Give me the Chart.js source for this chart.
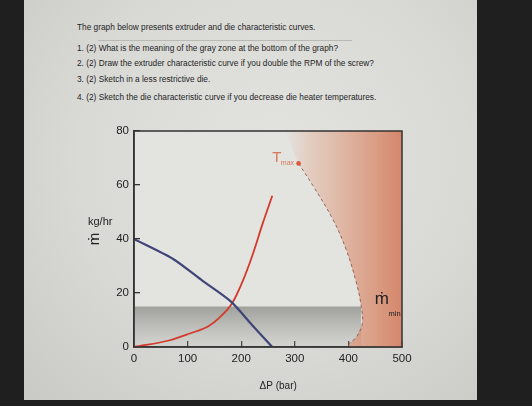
<!DOCTYPE html>
<html>
<head>
<meta charset="utf-8">
<script src="https://cdn.jsdelivr.net/npm/chart.js@4.4.1/dist/chart.umd.min.js"></script>
<style>
  html,body{margin:0;padding:0;width:532px;height:406px;overflow:hidden;background:#1f1f1f;}
  #paper{position:absolute;left:24px;top:0;width:453px;height:400px;
    background:radial-gradient(ellipse at 55% 40%, #e3e3e0 0%, #d9d9d6 55%, #c9c9c5 100%);}
  .q{position:absolute;left:77px;font-family:"Liberation Sans",Arial,sans-serif;font-size:8.3px;color:#1e1e1e;white-space:nowrap;line-height:10px;}
  #rule{position:absolute;left:98px;top:40px;width:254px;height:1px;background:#b9b9b6;}
  #c{position:absolute;left:0;top:0;}
</style>
</head>
<body>
<div id="paper"></div>
<div class="q" style="top:22px">The graph below presents extruder and die characteristic curves.</div>
<div id="rule"></div>
<div class="q" style="top:43px">1. (2) What is the meaning of the gray zone at the bottom of the graph?</div>
<div class="q" style="top:58px">2. (2) Draw the extruder characteristic curve if you double the RPM of the screw?</div>
<div class="q" style="top:74px">3. (2) Sketch in a less restrictive die.</div>
<div class="q" style="top:92px">4. (2) Sketch the die characteristic curve if you decrease die heater temperatures.</div>
<canvas id="c" width="532" height="406"></canvas>
<script>
// courbe extrudeuse (bleu)
const extruderP = [0, 73, 128, 181, 221, 258];
const extruderM = [40, 32.6, 24.5, 16.8, 8, 0];
// courbe filière (rouge)
const dieP = [0, 67, 104, 138, 159, 184, 202, 221, 240, 258];
const dieM = [0, 2.5, 5, 7.6, 10.8, 16.5, 24, 34, 45.7, 56];
// limite Tmax (pointillés)
const limitP = [307, 334, 371, 396, 415, 424, 426, 415, 402, 400];
const limitM = [68, 59.7, 47.3, 36, 23.7, 15, 8.7, 3.7, 1.3, 0];
const tmaxPoint = [307, 68];
// zone grise: debit minimum
const minFlow = 15;
const minFlowEnd = 424;
const xTicks = [0, 100, 200, 300, 400, 500];
const yTicks = [0, 20, 40, 60, 80];

const pts = (xs, ys) => xs.map((x, i) => ({x: x, y: ys[i]}));
const zone = [{x: 282, y: 80}].concat(pts(limitP, limitM), [{x: 500, y: 0}, {x: 500, y: 80}]);
const FONT = '"Liberation Sans", Arial, sans-serif';

function orangeFill(c){
  const chart = c.chart;
  if (!chart.chartArea) return 'rgba(0,0,0,0)';
  const xs = chart.scales.x;
  const g = chart.ctx.createLinearGradient(xs.getPixelForValue(282), 0, xs.getPixelForValue(500), 0);
  g.addColorStop(0, 'rgba(226,160,128,0)');
  g.addColorStop(0.2, 'rgba(226,155,122,0.3)');
  g.addColorStop(0.6, 'rgba(218,135,102,0.6)');
  g.addColorStop(1, 'rgba(210,118,86,0.85)');
  return g;
}
function grayFill(c){
  const chart = c.chart;
  if (!chart.chartArea) return 'rgba(0,0,0,0)';
  const ys = chart.scales.y;
  const g = chart.ctx.createLinearGradient(0, ys.getPixelForValue(minFlow), 0, ys.getPixelForValue(0));
  g.addColorStop(0, 'rgba(115,116,110,0.6)');
  g.addColorStop(1, 'rgba(150,150,145,0.2)');
  return g;
}

const decor = {
  id: 'decor',
  beforeDraw(chart){
    const {ctx, chartArea: a} = chart;
    ctx.save();
    ctx.fillStyle = '#e3e3e0';
    ctx.fillRect(a.left, a.top, a.width, a.height);
    ctx.restore();
  },
  afterDraw(chart){
    const {ctx, chartArea: a, scales: {x, y}} = chart;
    ctx.save();
    ctx.strokeStyle = '#333';
    ctx.lineWidth = 1.5;
    ctx.strokeRect(a.left, a.top, a.width, a.height);
    // etiquettes
    ctx.textBaseline = 'alphabetic';
    ctx.fillStyle = '#d9775c';
    ctx.font = '15px ' + FONT;
    ctx.fillText('T', x.getPixelForValue(258), y.getPixelForValue(68.5));
    ctx.font = '7px ' + FONT;
    ctx.fillText('max', x.getPixelForValue(274), y.getPixelForValue(67.5));
    ctx.fillStyle = '#222';
    ctx.font = '17px ' + FONT;
    ctx.fillText('ṁ', x.getPixelForValue(449), y.getPixelForValue(16));
    ctx.font = '7.5px ' + FONT;
    ctx.fillText('min', x.getPixelForValue(475), y.getPixelForValue(11.5));
    ctx.font = '11px ' + FONT;
    ctx.fillText('kg/hr', 88, 225);
    ctx.font = '10px ' + FONT;
    ctx.textAlign = 'center';
    ctx.fillText('ΔP (bar)', x.getPixelForValue(269), 389);
    ctx.restore();
  }
};

new Chart(document.getElementById('c'), {
  type: 'scatter',
  data: {
    datasets: [
      {data: pts(extruderP, extruderM), showLine: true, borderColor: '#3e4678', borderWidth: 2.2,
       pointRadius: 0, tension: 0.25, fill: false},
      {data: pts(dieP, dieM), showLine: true, borderColor: '#d33a2b', borderWidth: 1.8,
       pointRadius: 0, cubicInterpolationMode: 'monotone', fill: false},
      {data: [{x: tmaxPoint[0], y: tmaxPoint[1]}], pointRadius: 2.3, pointBackgroundColor: '#e0583b',
       pointBorderWidth: 0},
      {data: pts(limitP, limitM), showLine: true, borderColor: '#8a695c', borderWidth: 1,
       borderDash: [3, 3], pointRadius: 0, tension: 0.4, fill: false},
      {data: zone, showLine: true, borderWidth: 0, borderColor: 'rgba(0,0,0,0)', pointRadius: 0,
       tension: 0, fill: 'shape', backgroundColor: orangeFill},
      {data: [{x: 0, y: minFlow}, {x: minFlowEnd, y: minFlow}], showLine: true, borderWidth: 0,
       borderColor: 'rgba(0,0,0,0)', pointRadius: 0, fill: 'origin', backgroundColor: grayFill}
    ]
  },
  options: {
    responsive: false,
    animation: false,
    devicePixelRatio: 1,
    layout: {padding: {left: 80, right: 130, top: 131, bottom: 8}},
    plugins: {legend: {display: false}, tooltip: {enabled: false}},
    scales: {
      x: {
        type: 'linear', min: 0, max: 500,
        afterBuildTicks: s => { s.ticks = xTicks.map(v => ({value: v})); },
        afterFit: s => { s.height = 51; },
        grid: {drawOnChartArea: false, drawTicks: true, tickLength: -6, color: '#333', lineWidth: 1.3},
        border: {display: true, color: '#333', width: 1.5},
        ticks: {color: '#222', padding: 11, font: {family: FONT, size: 11.5}},
        title: {display: false}
      },
      y: {
        type: 'linear', min: 0, max: 80,
        afterBuildTicks: s => { s.ticks = yTicks.map(v => ({value: v})); },
        afterFit: s => { s.width = 54; },
        grid: {drawOnChartArea: false, drawTicks: true, tickLength: -6, color: '#333', lineWidth: 1.3},
        border: {display: true, color: '#333', width: 1.5},
        ticks: {color: '#222', padding: 11, font: {family: FONT, size: 11.5}},
        title: {display: true, text: 'ṁ', color: '#222', font: {family: FONT, size: 15}, padding: {top: 6, bottom: 0}}
      }
    }
  },
  plugins: [decor]
});
</script>
</body>
</html>
